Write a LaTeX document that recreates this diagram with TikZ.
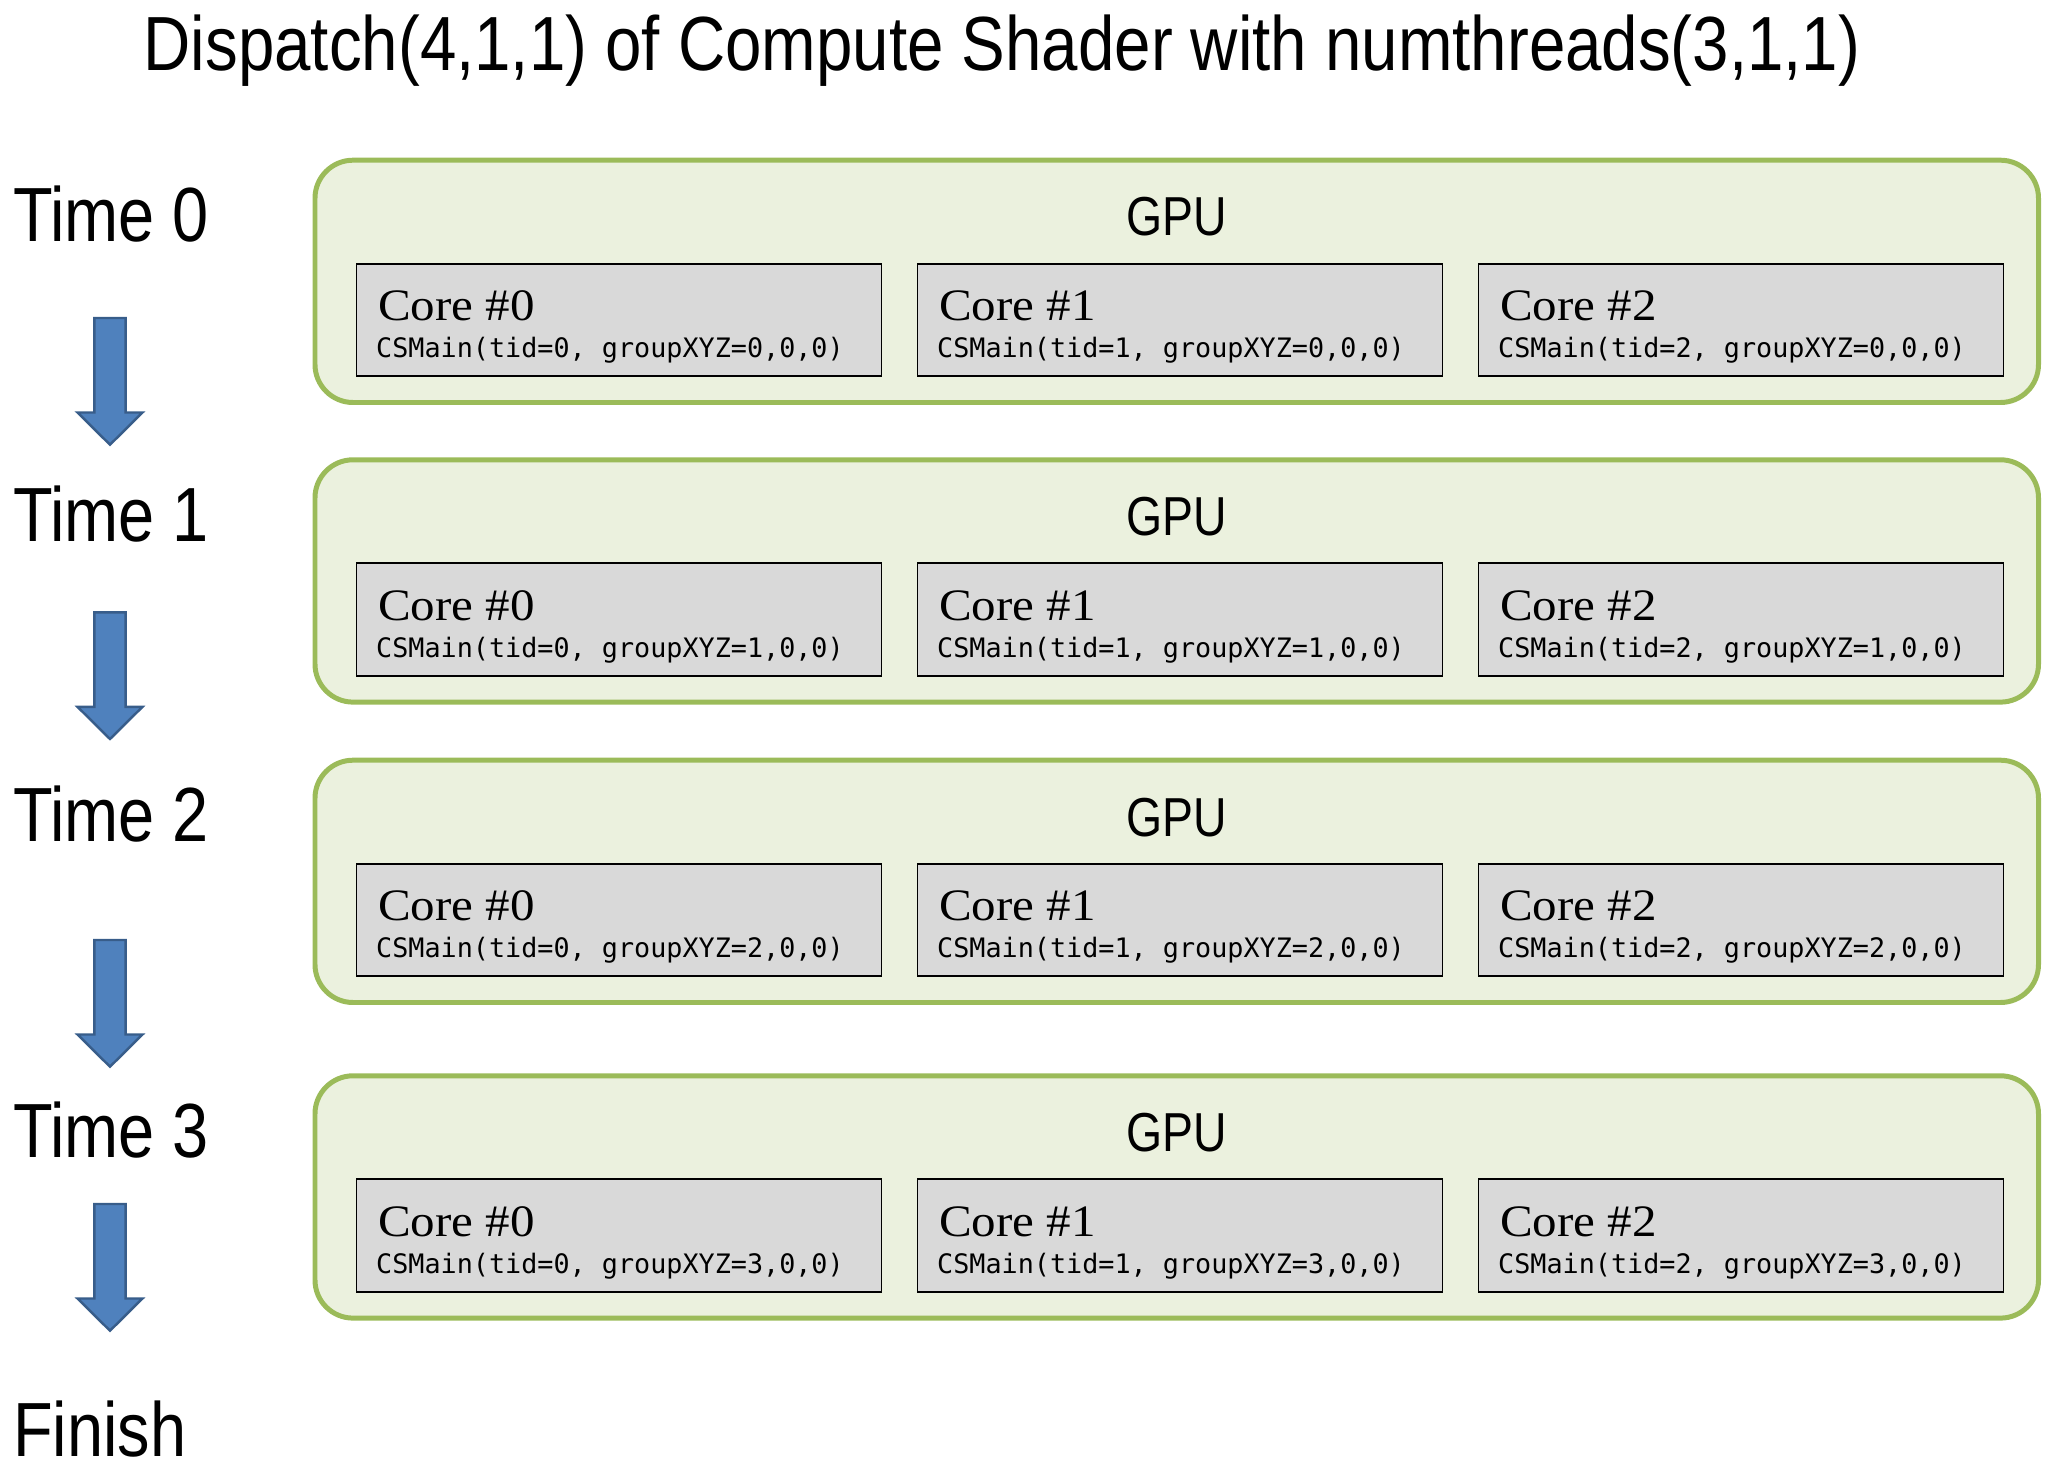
\documentclass[tikz,border=0pt]{standalone}
\usepackage{fontspec}
\newfontfamily\narrowsans{Liberation Sans}[FakeStretch=0.845]
\newfontfamily\titlesans{Liberation Sans}[FakeStretch=0.852]
\newfontfamily\coreserif{Liberation Serif}[FakeStretch=1.09]
\newfontfamily\codemono{DejaVu Sans Mono}
\definecolor{gpufill}{HTML}{EBF1DE}
\definecolor{gpuline}{HTML}{9BBB59}
\definecolor{corefill}{HTML}{D9D9D9}
\definecolor{arrowfill}{HTML}{4F81BD}
\definecolor{arrowline}{HTML}{385D8A}
\tikzset{
	titletext/.style={font=\titlesans\fontsize{21.85}{26}\selectfont,inner sep=0,anchor=base},
	timelabel/.style={font=\narrowsans\fontsize{21.85}{26}\selectfont,inner sep=0,anchor=base west},
	gpubox/.style={draw=gpuline,fill=gpufill,line width=1.42pt,rounded corners=0.38cm,minimum width=17.235cm,minimum height=2.423cm,inner sep=0,outer sep=0,anchor=north west},
	gpulabel/.style={font=\narrowsans\fontsize{15.62}{19}\selectfont,inner sep=0,anchor=base},
	corebox/.style={draw=black,fill=corefill,line width=0.5pt,minimum width=5.25cm,minimum height=1.126cm,inner sep=0,outer sep=0,anchor=north west},
	corename/.style={font=\coreserif\fontsize{12.8}{15}\selectfont,inner sep=0,anchor=base west},
	corecall/.style={font=\codemono\fontsize{7.62}{9}\selectfont,inner sep=0,anchor=base west},
	blockarrow/.style={draw=arrowline,fill=arrowfill,line width=0.7pt,line join=miter}
}
\begin{document}
\begin{tikzpicture}
	\useasboundingbox (0,0) rectangle (20.48,-14.78);
	\node[titletext] (title) at (10.02,-0.708) {Dispatch(4,1,1) of Compute Shader with numthreads(3,1,1)};
	\foreach \n/\top in {0/1.577,1/4.573,2/7.577,3/10.733}{
		\node[timelabel] (time\n) at (0.125,-\top-0.84) {Time \n};
		\node[gpubox] (gpu\n) at (3.15,-\top-0.025) {};
		\node[gpulabel] (gpulbl\n) at ([yshift=-0.758cm]gpu\n.north) {GPU};
		\foreach \k in {0,1,2}{
			\node[corebox] (core\n-\k) at ([xshift=0.415cm+\k*5.61cm,yshift=-1.035cm]gpu\n.north west) {};
			\node[corename] (name\n-\k) at ([xshift=0.21cm,yshift=-0.57cm]core\n-\k.north west) {Core \#\k};
			\node[corecall] (call\n-\k) at ([xshift=0.19cm,yshift=-0.941cm]core\n-\k.north west) {CSMain(tid=\k, groupXYZ=\n,0,0)};
		}
	}
	\node[timelabel] (finish) at (0.125,-14.56) {Finish};
	\foreach \top in {3.18,6.123,9.40,12.04}
		\draw[blockarrow] (0.944,-\top)--(1.257,-\top)--(1.257,-\top-0.945)--(1.425,-\top-0.945)--(1.10,-\top-1.267)--(0.775,-\top-0.945)--(0.944,-\top-0.945)--cycle;
\end{tikzpicture}
\end{document}
